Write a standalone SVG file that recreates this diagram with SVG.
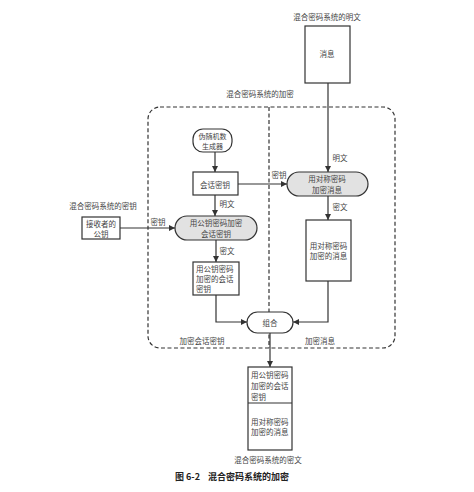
<svg xmlns="http://www.w3.org/2000/svg" width="474" height="492" viewBox="0 0 474 492">
<defs>
<marker id="ah" viewBox="0 0 8 8" refX="8" refY="4" markerWidth="6" markerHeight="6" orient="auto" markerUnits="userSpaceOnUse">
<path d="M0,0 L8,4 L0,8 z" fill="#333"/>
</marker>
</defs>
<style>
text{font-family:"Noto Sans CJK SC","Noto Sans",sans-serif;font-size:7.5px;fill:#444;text-anchor:middle;dominant-baseline:central}
.l{text-anchor:start}
.s{font-size:7px}
.box{fill:#fff;stroke:#333;stroke-width:1.2}
.st{fill:#e2e2e2;stroke:#333;stroke-width:1.2}
.st2{fill:#fff;stroke:#333;stroke-width:1.2}
.c{fill:none;stroke:#333;stroke-width:1.2}
.ca{fill:none;stroke:#333;stroke-width:1.2;marker-end:url(#ah)}
.dash{fill:none;stroke:#333;stroke-width:1.2;stroke-dasharray:4 2.5}
.cap{font-size:9px;font-weight:bold;fill:#222}
</style>
<rect width="474" height="492" fill="#fff"/>

<g id="frame">
<rect class="dash" x="148" y="107" width="247" height="241" rx="12"/>
<line class="dash" x1="269" y1="107" x2="269" y2="348"/>
<text x="260" y="93">混合密码系统的加密</text>
<text x="202" y="340">加密会话密钥</text>
<text x="320" y="340">加密消息</text>
</g>

<g id="connectors">
<path class="ca" d="M328,83 V172"/>
<path class="ca" d="M328,196 V220"/>
<path class="ca" d="M238,184 H287"/>
<path class="ca" d="M215,152 V172"/>
<path class="ca" d="M215,195 V216"/>
<path class="ca" d="M120,228 H175"/>
<path class="ca" d="M216,240 V262"/>
<path class="ca" d="M216,295 V322 H247"/>
<path class="ca" d="M328,281 V322 H293"/>
<path class="ca" d="M270,333 V367"/>
<text x="340" y="157">明文</text>
<text x="279" y="174">密钥</text>
<text x="340" y="206">密文</text>
<text x="227" y="203">明文</text>
<text x="158" y="221">密钥</text>
<text x="227" y="250">密文</text>
</g>

<g id="plaintext">
<text x="327" y="16">混合密码系统的明文</text>
<rect class="box" x="305" y="26" width="45" height="57"/>
<text x="327" y="53">消息</text>
</g>

<g id="prng">
<rect class="st2" x="193" y="129" width="39" height="23" rx="10"/>
<text class="s" x="212.5" y="135.5">伪随机数</text>
<text class="s" x="212.5" y="145.5">生成器</text>
</g>

<g id="sessionkey">
<rect class="box" x="193" y="172" width="45" height="23"/>
<text x="215" y="184">会话密钥</text>
</g>

<g id="symenc">
<rect class="st" x="287" y="172" width="81" height="24" rx="12"/>
<text x="327" y="178.5">用对称密码</text>
<text x="327" y="189">加密消息</text>
</g>

<g id="pubenc">
<rect class="st" x="175" y="216" width="82" height="24" rx="12"/>
<text x="216" y="222.5">用公钥密码加密</text>
<text x="216" y="233">会话密钥</text>
</g>

<g id="receiverkey">
<text x="103" y="205">混合密码系统的密钥</text>
<rect class="box" x="82" y="217" width="38" height="22"/>
<text x="101" y="223">接收者的</text>
<text x="101" y="233">公钥</text>
</g>

<g id="encsession">
<rect class="box" x="193" y="262" width="46" height="33"/>
<text class="l" x="196" y="268">用公钥密码</text>
<text class="l" x="196" y="278">加密的会话</text>
<text class="l" x="196" y="288">密钥</text>
</g>

<g id="encmsg">
<rect class="box" x="306" y="220" width="45" height="61"/>
<text x="328.5" y="245">用对称密码</text>
<text x="328.5" y="255">加密的消息</text>
</g>

<g id="combine">
<rect class="st2" x="247" y="312" width="46" height="21" rx="10.5"/>
<text x="270" y="322.5">组合</text>
</g>

<g id="ciphertext">
<rect class="box" x="248" y="367" width="44" height="83"/>
<line class="c" x1="248" y1="403" x2="292" y2="403"/>
<text class="l" x="251" y="374">用公钥密码</text>
<text class="l" x="251" y="385">加密的会话</text>
<text class="l" x="251" y="396">密钥</text>
<text class="l" x="251" y="421">用对称密码</text>
<text class="l" x="251" y="431">加密的消息</text>
<text x="268" y="459">混合密码系统的密文</text>
</g>

<g id="caption">
<text class="cap l" x="175" y="476">图 6-2</text>
<text class="cap l" x="208" y="476">混合密码系统的加密</text>
</g>
</svg>
